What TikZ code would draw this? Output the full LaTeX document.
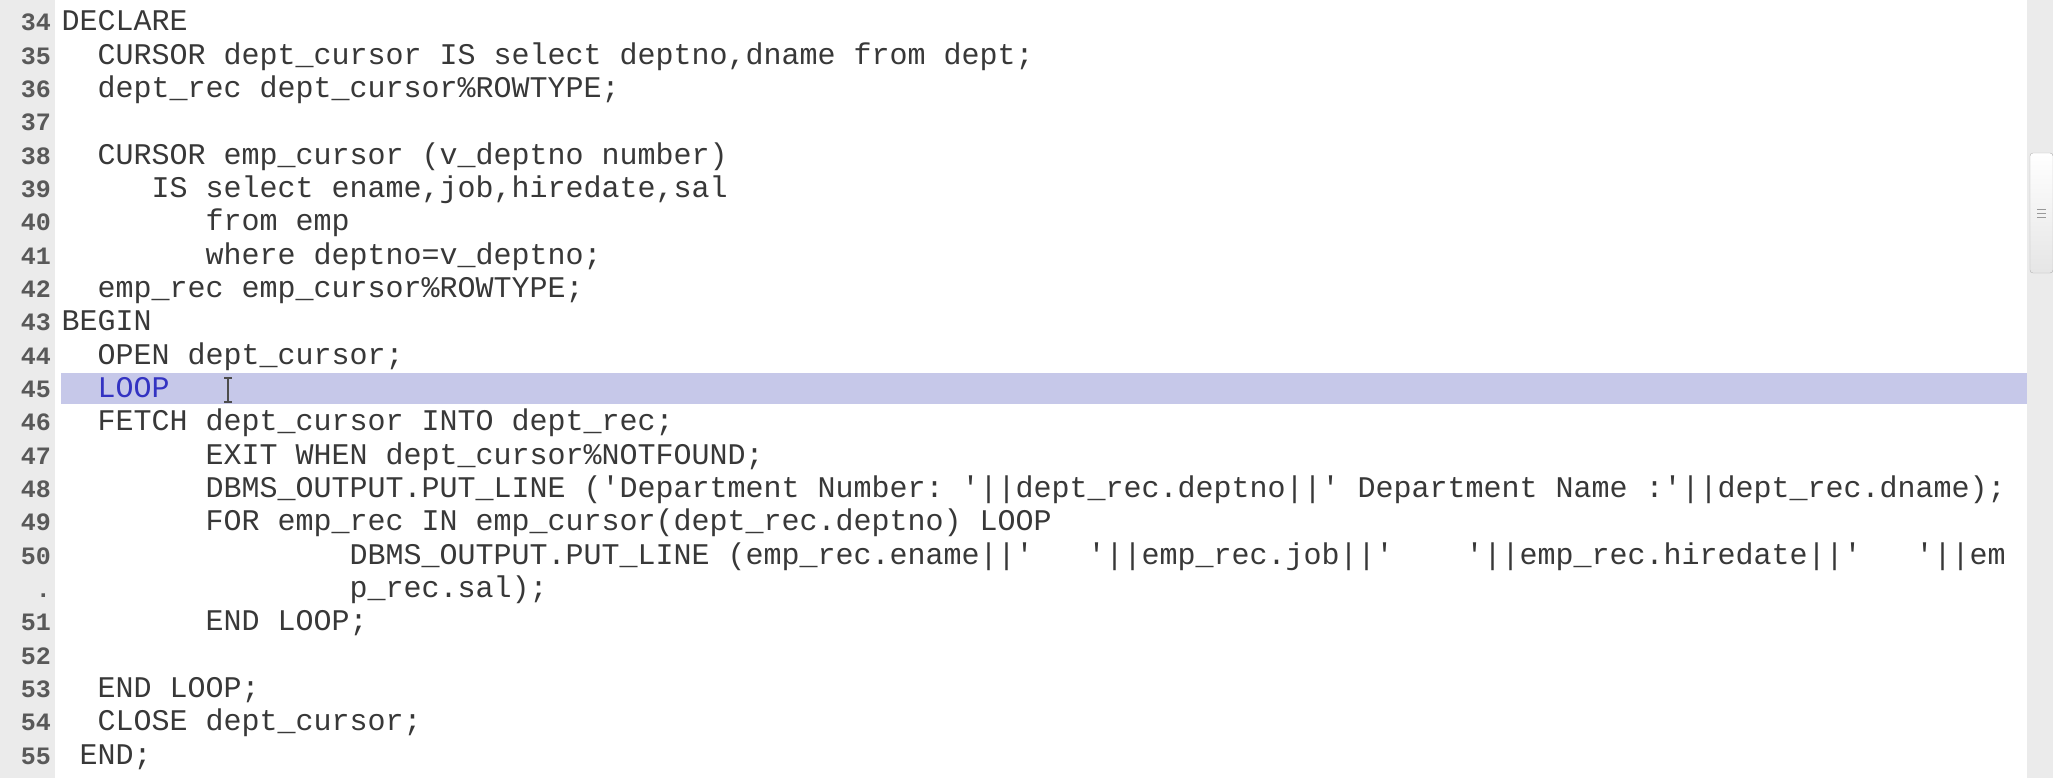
\documentclass[tikz,border=0pt]{standalone}
\usepackage{fontspec}
\setmonofont{Liberation Mono}
\begin{document}
\begin{tikzpicture}[x=1pt,y=-1pt,
  code/.style={anchor=base west,inner sep=0pt,text=black!78,font=\ttfamily\fontsize{30}{30}\selectfont},
  num/.style={anchor=base east,inner sep=0pt,text=black!65,font=\ttfamily\bfseries\fontsize{25}{25}\selectfont},
  kw/.style={code,text=blue!70!black!80!white}]
\useasboundingbox (0,0) rectangle (2053,778);
\fill[white] (0,0) rectangle (2053,778);
\fill[black!8] (0,0) rectangle (55,778);
\fill[cyan!25!blue!22!white] (61,373) rectangle (2027,404);
\fill[black!8] (2027,0) rectangle (2053,778);
\shade[top color=white,bottom color=black!10,draw=black!30,rounded corners=3pt] (2030,153) rectangle (2053,273);
\foreach \yy in {209,213,217} \draw[black!40] (2037,\yy) -- (2046,\yy);
\def\X#1{\fpeval{61.5+18*#1}}
\def\Y#1{\fpeval{31+33.32*#1}}
\foreach \n/\k in {34/0,35/1,36/2,37/3,38/4,39/5,40/6,41/7,42/8,43/9,44/10,45/11,46/12,47/13,48/14,49/15,50/16,./17,51/18,52/19,53/20,54/21,55/22}
  \node[num] (n\k) at (51,{31+33.32*\k}) {\n};
\node[code] (l0) at (61.5,{\Y{0}}) {DECLARE};
\node[code] (l1) at ({\X{2}},{\Y{1}}) {CURSOR dept\_cursor IS select deptno,dname from dept;};
\node[code] (l2) at ({\X{2}},{\Y{2}}) {dept\_rec dept\_cursor\%ROWTYPE;};
\node[code] (l4) at ({\X{2}},{\Y{4}}) {CURSOR emp\_cursor (v\_deptno number)};
\node[code] (l5) at ({\X{5}},{\Y{5}}) {IS select ename,job,hiredate,sal};
\node[code] (l6) at ({\X{8}},{\Y{6}}) {from emp};
\node[code] (l7) at ({\X{8}},{\Y{7}}) {where deptno=v\_deptno;};
\node[code] (l8) at ({\X{2}},{\Y{8}}) {emp\_rec emp\_cursor\%ROWTYPE;};
\node[code] (l9) at (61.5,{\Y{9}}) {BEGIN};
\node[code] (l10) at ({\X{2}},{\Y{10}}) {OPEN dept\_cursor;};
\node[kw] (l11) at ({\X{2}},{\Y{11}}) {LOOP};
\node[code] (l12) at ({\X{2}},{\Y{12}}) {FETCH dept\_cursor INTO dept\_rec;};
\node[code] (l13) at ({\X{8}},{\Y{13}}) {EXIT WHEN dept\_cursor\%NOTFOUND;};
\node[code] (l14) at ({\X{8}},{\Y{14}}) {DBMS\_OUTPUT.PUT\_LINE ('Department Number: '||dept\_rec.deptno||' Department Name :'||dept\_rec.dname);};
\node[code] (l15) at ({\X{8}},{\Y{15}}) {FOR emp\_rec IN emp\_cursor(dept\_rec.deptno) LOOP};
\node[code] (l16) at ({\X{16}},{\Y{16}}) {DBMS\_OUTPUT.PUT\_LINE (emp\_rec.ename||'~~~'||emp\_rec.job||'~~~~'||emp\_rec.hiredate||'~~~'||em};
\node[code] (l17) at ({\X{16}},{\Y{17}}) {p\_rec.sal);};
\node[code] (l18) at ({\X{8}},{\Y{18}}) {END LOOP;};
\node[code] (l20) at ({\X{2}},{\Y{20}}) {END LOOP;};
\node[code] (l21) at ({\X{2}},{\Y{21}}) {CLOSE dept\_cursor;};
\node[code] (l22) at ({\X{1}},{\Y{22}}) {END;};
% text cursor
\draw[black!70,line width=1.6pt] (228,378) -- (228,402) (224,378) -- (232,378) (224,402) -- (232,402);
\end{tikzpicture}
\end{document}
